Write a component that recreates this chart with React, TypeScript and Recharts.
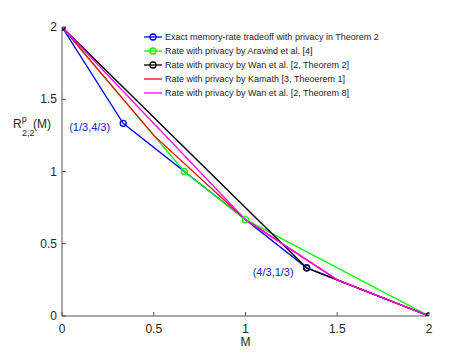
import React from 'react';
import { LineChart, Line, XAxis, YAxis, Legend, ReferenceDot, Label } from 'recharts';

// memory M on x, rate R on y, one pair of arrays per scheme
const M_EXACT = [0, 1 / 3, 4 / 3, 2];
const R_EXACT = [2, 4 / 3, 1 / 3, 0];

const M_ARAVIND = [0, 2 / 3, 1, 2];
const R_ARAVIND = [2, 1, 2 / 3, 0];

const M_WAN_T2 = [0, 4 / 3, 2];
const R_WAN_T2 = [2, 1 / 3, 0];

const M_KAMATH = [0, 0.5, 1, 1.5, 2];
const R_KAMATH = [2, 1.25, 2 / 3, 0.25, 0];

const M_WAN_T8 = [0, 1, 1.5, 2];
const R_WAN_T8 = [2, 2 / 3, 0.25, 0];

const TICKS = [0, 0.5, 1, 1.5, 2];

const ANNOTATIONS = [
  { m: 1 / 3, r: 4 / 3, text: '(1/3,4/3)' },
  { m: 4 / 3, r: 1 / 3, text: '(4/3,1/3)' },
];

const toPoints = (ms: number[], rs: number[]) => ms.map((m, i) => ({ m, r: rs[i] }));

const SERIES = [
  { name: 'Exact memory-rate tradeoff with privacy in Theorem 2', color: '#0000ff', marker: true, data: toPoints(M_EXACT, R_EXACT) },
  { name: 'Rate with privacy by Aravind et al. [4]', color: '#00ff00', marker: true, data: toPoints(M_ARAVIND, R_ARAVIND) },
  { name: 'Rate with privacy by Wan et al. [2, Theorem 2]', color: '#000000', marker: true, data: toPoints(M_WAN_T2, R_WAN_T2) },
  { name: 'Rate with privacy by Kamath [3, Theoerem 1]', color: '#ff0000', marker: false, data: toPoints(M_KAMATH, R_KAMATH) },
  { name: 'Rate with privacy by Wan et al. [2, Theorem 8]', color: '#ff00ff', marker: false, data: toPoints(M_WAN_T8, R_WAN_T8) },
];

const AXIS = '#555555';
const TEXT = '#262626';
const FONT = '"Liberation Sans", Arial, sans-serif';

const XTick = (props: any) => {
  const { x, y, payload } = props;
  return (
    <g>
      <line x1={x} x2={x} y1={y} y2={y - 4} stroke={AXIS} />
      <text x={x} y={y + 17} textAnchor="middle" fontSize={12} fill={TEXT}>{payload.value}</text>
    </g>
  );
};

const YTick = (props: any) => {
  const { x, y, payload } = props;
  return (
    <g>
      <line x1={x} x2={x + 4} y1={y} y2={y} stroke={AXIS} />
      <text x={x - 5} y={y + 4} textAnchor="end" fontSize={12} fill={TEXT}>{payload.value}</text>
    </g>
  );
};

const YTitle = (props: any) => {
  const { viewBox } = props;
  const x = viewBox.x + 13;
  const y = viewBox.y + 101;
  return (
    <text x={x} y={y} fontSize={12} fill={TEXT}>
      R
      <tspan fontSize={9} dy={-6}>p</tspan>
      <tspan fontSize={9} x={x + 9} dy={14}>2,2</tspan>
      <tspan fontSize={12} x={x + 20} dy={-8}>(M)</tspan>
    </text>
  );
};

const LegendBox = () => (
  <svg width={300} height={80}>
    {SERIES.map((s, i) => {
      const cy = 9 + i * 14;
      return (
        <g key={s.name}>
          <line x1={4} x2={22} y1={cy} y2={cy} stroke={s.color} strokeWidth={1.3} />
          {s.marker && <circle cx={13} cy={cy} r={3} fill="none" stroke={s.color} strokeWidth={1.3} />}
          <text x={25} y={cy + 3} fontSize={9} fill={TEXT}>{s.name}</text>
        </g>
      );
    })}
  </svg>
);

const App: React.FC = () => {
  return (
    <div style={{ position: 'absolute', left: 0, top: 0, background: '#fff', fontFamily: FONT }}>
      <LineChart width={474} height={355} margin={{ top: 27, right: 45, bottom: 0, left: 0 }}>
        <XAxis
          type="number"
          dataKey="m"
          domain={[0, 2]}
          ticks={TICKS}
          height={39}
          stroke={AXIS}
          tickSize={0}
          tickMargin={0}
          tick={<XTick />}
          allowDataOverflow
        >
          <Label
            content={(p: any) => (
              <text x={p.viewBox.x + p.viewBox.width / 2} y={p.viewBox.y + 30} textAnchor="middle" fontSize={12} fill={TEXT}>M</text>
            )}
          />
        </XAxis>
        <YAxis
          type="number"
          dataKey="r"
          domain={[0, 2]}
          ticks={TICKS}
          width={62}
          stroke={AXIS}
          tickSize={0}
          tickMargin={0}
          tick={<YTick />}
          allowDataOverflow
        >
          <Label content={<YTitle />} />
        </YAxis>
        <Legend
          layout="vertical"
          align="center"
          verticalAlign="middle"
          content={<LegendBox />}
          wrapperStyle={{ position: 'absolute', left: 140, top: 28, width: 300, height: 80 }}
        />
        {SERIES.map((s) => (
          <Line
            key={s.name}
            data={s.data}
            dataKey="r"
            name={s.name}
            type="linear"
            stroke={s.color}
            strokeWidth={1.3}
            dot={s.marker ? { r: 3, fill: 'none', stroke: s.color, strokeWidth: 1.3 } : false}
            activeDot={false}
            isAnimationActive={false}
          />
        ))}
        {ANNOTATIONS.map((a) => (
          <ReferenceDot
            key={a.text}
            x={a.m}
            y={a.r}
            r={0}
            fill="none"
            stroke="none"
            label={(p: any) => (
              <text x={p.viewBox.x - 13} y={p.viewBox.y + 8} textAnchor="end" fontSize={11} fill="#2020d0">{a.text}</text>
            )}
          />
        ))}
      </LineChart>
    </div>
  );
};

export default App;
